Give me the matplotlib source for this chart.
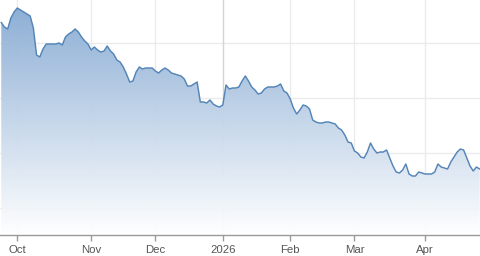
import numpy as np
import pandas as pd
import matplotlib
matplotlib.use("Agg")
import matplotlib.pyplot as plt
from matplotlib.patches import Polygon

# ---- data ----
start_date = "2025-09-24"
end_date = "2026-04-28"
market_holidays = ["2025-12-25", "2025-12-26", "2026-01-01", "2026-04-03", "2026-04-06"]
tick_labels = ["Oct", "Nov", "Dec", "2026", "Feb", "Mar", "Apr"]
prices = [
    57.75, 57.3, 57.1, 58.2, 58.8, 59.2, 59.0, 58.8, 58.6, 58.4,
    57.2, 54.5, 54.3, 55.1, 55.6, 55.6, 55.6, 55.6, 55.7, 55.5,
    56.3, 56.6, 56.8, 57.1, 56.8, 56.3, 55.9, 55.6, 55.0, 55.3,
    55.0, 54.8, 54.9, 55.4, 54.9, 54.6, 54.0, 53.8, 53.3, 52.6,
    51.8, 51.9, 52.8, 53.3, 53.1, 53.2, 53.2, 53.2, 52.9, 52.7,
    53.0, 53.2, 53.0, 52.7, 52.6, 52.5, 52.4, 52.1, 51.4, 51.4,
    51.6, 51.8, 49.8, 49.8, 49.7, 50.0, 49.6, 49.4, 49.3, 49.5,
    51.5, 51.1, 51.2, 51.2, 51.3, 51.9, 52.4, 51.9, 51.3, 51.0,
    50.6, 50.7, 51.1, 51.3, 51.3, 51.3, 51.4, 51.6, 50.9, 50.7,
    50.1, 49.2, 48.6, 49.0, 49.5, 49.4, 49.1, 48.0, 47.8, 47.7,
    47.7, 47.8, 47.8, 47.7, 47.6, 47.2, 47.0, 46.5, 45.8, 45.7,
    44.9, 44.7, 44.3, 44.2, 44.8, 45.7, 45.1, 44.7, 44.8, 44.8,
    45.0, 44.2, 43.4, 42.8, 42.7, 43.0, 43.6, 42.6, 42.4, 42.4,
    42.8, 42.7, 42.6, 42.6, 42.6, 42.8, 43.6, 43.3, 43.2, 43.1,
    43.8, 44.3, 44.8, 45.1, 45.0, 44.2, 43.4, 42.9, 43.3, 43.1,
]

dates = pd.bdate_range(start_date, end_date, freq="C", holidays=market_holidays)
n = min(len(dates), len(prices))
dates = dates[:n]
vals = np.array(prices[:n])
idx = np.arange(n)

# month-start tick positions (first trading day of each month)
months = pd.Series(dates.to_period("M"))
first_idx = [i for i in range(n) if i == 0 or months[i] != months[i - 1]]
first_idx = [i for i in first_idx if dates[i].day <= 7 and i > 0]
tick_pos = first_idx[:len(tick_labels)]

# ---- figure ----
fig = plt.figure(figsize=(4.8, 2.56), dpi=100)
ax = fig.add_axes([0, 21 / 256, 1, 235 / 256])
ymin, ymax = 36.5, 60.0
xmin, xmax = -0.39, 149.1
ax.set_xlim(xmin, xmax)
ax.set_ylim(ymin, ymax)

# gridlines
for yv in [39.2, 44.7, 50.2, 55.7]:
    ax.axhline(yv, color="#ebebeb", lw=1.0, zorder=0)
for p, lab in zip(tick_pos, tick_labels):
    ax.axvline(p, color="#d4d4d4" if lab == "2026" else "#ebebeb", lw=1.0, zorder=0)

# gradient fill under line
top_c = np.array([134, 170, 211]) / 255
bot_c = np.array([255, 255, 255]) / 255
t = np.linspace(0, 1, 256)[:, None]
grad = top_c[None, :] * (1 - t) + bot_c[None, :] * t
img = np.dstack([np.repeat(grad[:, :, None][:, c, :], 2, axis=1) for c in range(3)])
alpha = np.full(img.shape[:2] + (1,), 0.975)
img = np.concatenate([img, alpha], axis=2)
im = ax.imshow(img, extent=[xmin, xmax, ymin, ymax], origin="upper",
               aspect="auto", zorder=1, interpolation="bilinear")
verts = np.column_stack([np.r_[idx[0], idx, idx[-1]], np.r_[ymin, vals, ymin]])
poly = Polygon(verts, closed=True, facecolor="none", edgecolor="none")
ax.add_patch(poly)
im.set_clip_path(poly)

ax.plot(idx, vals, color="#5485b7", lw=1.05, zorder=3, solid_joinstyle="round")

# axes styling
for s in ["top", "left", "right"]:
    ax.spines[s].set_visible(False)
ax.spines["bottom"].set_color("#9a9a9a")
ax.spines["bottom"].set_linewidth(1.0)
ax.spines["bottom"].set_zorder(4)
ax.set_yticks([])
ax.set_xticks(tick_pos)
ax.set_xticklabels(tick_labels, family=["Liberation Sans", "DejaVu Sans"], fontsize=8.2, color="#555555")
ax.tick_params(axis="x", length=4, width=1, color="#9a9a9a", pad=3.5)

fig.savefig("out.png", dpi=100)
